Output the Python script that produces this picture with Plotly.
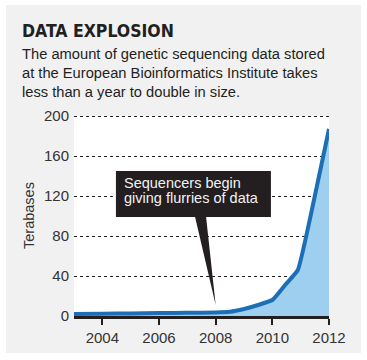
import plotly.graph_objects as go

# ---- data ----
years = [2003, 2004, 2005, 2006, 2007, 2008, 2008.5, 2009, 2009.5, 2010, 2010.45, 2010.9, 2011.35, 2012]
terabases = [2, 2.3, 2.6, 2.9, 3.2, 3.5, 4.2, 7, 11, 16, 31, 46, 100, 187]
x_ticks = [2004, 2006, 2008, 2010, 2012]
y_ticks = [0, 40, 80, 120, 160, 200]

title = "DATA EXPLOSION"
subtitle = ("The amount of genetic sequencing data stored<br>"
            "at the European Bioinformatics Institute takes<br>"
            "less than a year to double in size.")
callout_lines = ["Sequencers begin", "giving flurries of data"]

W, H = 367, 360
L, R, T, B = 74, 38, 112, 44
PW, PH = W - L - R, H - T - B


def px(xp):
    return (xp - L) / PW


def py(yp):
    return (H - B - yp) / PH


INK = "#231f20"
GREY = "#f1f1f2"
BLUE = "#1c6fb7"
FILL = "#9fcfef"

fig = go.Figure()
fig.add_trace(go.Scatter(
    x=years, y=terabases, mode="lines",
    line=dict(color=BLUE, width=4, shape="spline", smoothing=0.4),
    fill="tozeroy", fillcolor=FILL, hoverinfo="skip", showlegend=False,
))

shapes = [
    # grey panel
    dict(type="rect", xref="paper", yref="paper", x0=px(6), x1=px(361), y0=py(353), y1=py(5),
         fillcolor=GREY, line=dict(width=0), layer="below"),
    # white plot area (up to the 200 gridline)
    dict(type="rect", xref="paper", yref="y", x0=0, x1=1, y0=0, y1=200,
         fillcolor="white", line=dict(width=0), layer="below"),
    # callout box (data coordinates)
    dict(type="rect", xref="x", yref="y", x0=2004.48, x1=2009.95, y0=99, y1=145,
         fillcolor=INK, line=dict(width=0), layer="above"),
    # callout pointer wedge
    dict(type="path", xref="x", yref="y",
         path="M 2007.27 99.5 L 2007.66 99.5 L 2008.0 11 Z",
         fillcolor=INK, line=dict(width=0), layer="above"),
]

annotations = [
    dict(text="<b>" + title + "</b>", xref="paper", yref="paper", x=px(20), y=py(19),
         xanchor="left", yanchor="top", showarrow=False,
         font=dict(family="DejaVu Sans Condensed, DejaVu Sans", size=17.5, color=INK)),
    dict(text=subtitle, xref="paper", yref="paper", x=px(20), y=py(44),
         xanchor="left", yanchor="top", showarrow=False, align="left",
         font=dict(family="Liberation Sans", size=14.7, color=INK)),
    dict(text="Terabases", xref="paper", yref="paper", x=px(29), y=py(216), textangle=-90,
         xanchor="center", yanchor="middle", showarrow=False,
         font=dict(family="Liberation Sans", size=14.5, color="#333333")),
]
for i, line in enumerate(callout_lines):
    annotations.append(dict(text=line, xref="x", yref="y", x=2004.48, y=[133, 118][i],
                            xanchor="left", yanchor="middle", xshift=6, showarrow=False,
                            font=dict(family="Liberation Sans", size=14.5, color="#f2f2f2")))

fig.update_layout(
    width=W, height=H, margin=dict(l=L, r=R, t=T, b=B),
    paper_bgcolor="white", plot_bgcolor="rgba(0,0,0,0)",
    shapes=shapes, annotations=annotations,
    xaxis=dict(range=[2003, 2012], tickvals=x_ticks, showgrid=False, zeroline=False,
               showline=True, linecolor=INK, linewidth=3, ticks="outside", ticklen=6,
               tickwidth=1.5, tickcolor=INK,
               tickfont=dict(family="Liberation Sans", size=15, color="#333333")),
    yaxis=dict(range=[0, 204], tickvals=y_ticks, showgrid=True, griddash="dot",
               gridcolor=INK, gridwidth=1, zeroline=False, showline=False,
               ticks="", ticklabelstandoff=4,
               tickfont=dict(family="Liberation Sans", size=15, color="#333333")),
)
fig.write_html("out.html")
